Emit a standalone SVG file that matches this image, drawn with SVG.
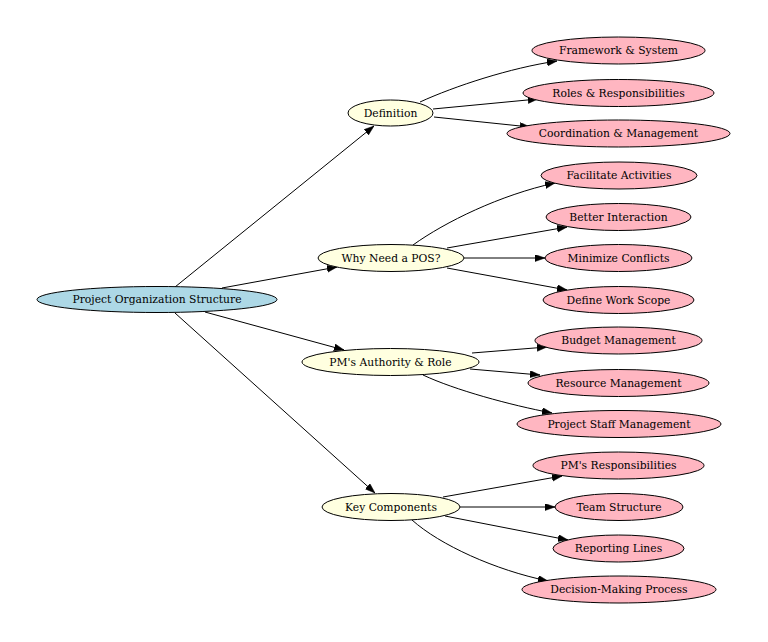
<svg xmlns="http://www.w3.org/2000/svg" width="768" height="642" viewBox="0 0 768 642">
<style>
text{font-family:"DejaVu Serif","Liberation Serif",serif;font-size:10.75px;text-anchor:middle;fill:#000}
.root{fill:#add8e6;stroke:#000;stroke-width:1}
.mid{fill:#ffffe0;stroke:#000;stroke-width:1}
.leaf{fill:#ffb6c1;stroke:#000;stroke-width:1}
.e{fill:none;stroke:#000;stroke-width:1;marker-end:url(#arr)}
</style>
<defs>
<marker id="arr" markerUnits="userSpaceOnUse" markerWidth="10" markerHeight="8" refX="10" refY="3.5" orient="auto">
<path d="M0,0 L10,3.5 L0,7 z" fill="#000" stroke="#000" stroke-width="0.5"/>
</marker>
</defs>
<rect width="768" height="642" fill="#fff"/>
<g id="connectors">
<path class="e" d="M175,287 L374,126"/>
<path class="e" d="M222,288 L337,267"/>
<path class="e" d="M205,312 L344,350"/>
<path class="e" d="M175,313 L375,493"/>
<path class="e" d="M420,102 C455,86 510,68 557,61"/>
<path class="e" d="M433,109 L538,99"/>
<path class="e" d="M434,117 L530,127"/>
<path class="e" d="M413,245 C445,222 500,195 555,183"/>
<path class="e" d="M447,248 L567,227"/>
<path class="e" d="M464,258 L545,258"/>
<path class="e" d="M447,268 L567,290"/>
<path class="e" d="M472,353 L547,347"/>
<path class="e" d="M470,369 L540,375"/>
<path class="e" d="M423,375 C455,390 510,405 552,413"/>
<path class="e" d="M443,497 L562,476"/>
<path class="e" d="M460,507 L555,507"/>
<path class="e" d="M445,516 L568,540"/>
<path class="e" d="M412,520 C440,545 495,570 548,581"/>
</g>
<g id="n_root"><ellipse class="root" cx="157" cy="299.5" rx="120" ry="13"/><text x="157" y="303.3">Project Organization Structure</text></g>
<g id="n_def"><ellipse class="mid" cx="390.5" cy="113" rx="42.5" ry="13"/><text x="390.5" y="116.8">Definition</text></g>
<g id="n_why"><ellipse class="mid" cx="391" cy="258" rx="73" ry="13.5"/><text x="391" y="261.8">Why Need a POS?</text></g>
<g id="n_pm"><ellipse class="mid" cx="390.5" cy="362" rx="88.5" ry="13.5"/><text x="390.5" y="365.8">PM's Authority &amp; Role</text></g>
<g id="n_key"><ellipse class="mid" cx="391" cy="507" rx="69" ry="13.5"/><text x="391" y="510.8">Key Components</text></g>
<g id="n_fw"><ellipse class="leaf" cx="618.5" cy="50.5" rx="86.5" ry="13.5"/><text x="618.5" y="54.3">Framework &amp; System</text></g>
<g id="n_roles"><ellipse class="leaf" cx="618.5" cy="93" rx="95.5" ry="13.5"/><text x="618.5" y="96.8">Roles &amp; Responsibilities</text></g>
<g id="n_coord"><ellipse class="leaf" cx="618.5" cy="133.5" rx="111.5" ry="13.5"/><text x="618.5" y="137.3">Coordination &amp; Management</text></g>
<g id="n_fac"><ellipse class="leaf" cx="619" cy="175.5" rx="78" ry="13.5"/><text x="619" y="179.3">Facilitate Activities</text></g>
<g id="n_better"><ellipse class="leaf" cx="618.5" cy="217" rx="72.5" ry="13.5"/><text x="618.5" y="220.8">Better Interaction</text></g>
<g id="n_min"><ellipse class="leaf" cx="618.5" cy="258" rx="73.5" ry="13.5"/><text x="618.5" y="261.8">Minimize Conflicts</text></g>
<g id="n_scope"><ellipse class="leaf" cx="618.5" cy="300" rx="75.5" ry="13.5"/><text x="618.5" y="303.8">Define Work Scope</text></g>
<g id="n_budget"><ellipse class="leaf" cx="618.5" cy="340.5" rx="83.5" ry="13.5"/><text x="618.5" y="344.3">Budget Management</text></g>
<g id="n_res"><ellipse class="leaf" cx="618.5" cy="383" rx="90.5" ry="13.5"/><text x="618.5" y="386.8">Resource Management</text></g>
<g id="n_staff"><ellipse class="leaf" cx="619" cy="424" rx="102" ry="13.5"/><text x="619" y="427.8">Project Staff Management</text></g>
<g id="n_pmresp"><ellipse class="leaf" cx="618.5" cy="465.5" rx="85.5" ry="13.5"/><text x="618.5" y="469.3">PM's Responsibilities</text></g>
<g id="n_team"><ellipse class="leaf" cx="619" cy="507" rx="64" ry="13.5"/><text x="619" y="510.8">Team Structure</text></g>
<g id="n_rep"><ellipse class="leaf" cx="618.5" cy="548.5" rx="65.5" ry="13.5"/><text x="618.5" y="552.3">Reporting Lines</text></g>
<g id="n_dec"><ellipse class="leaf" cx="619" cy="589.5" rx="97" ry="13.5"/><text x="619" y="593.3">Decision-Making Process</text></g>
</svg>
